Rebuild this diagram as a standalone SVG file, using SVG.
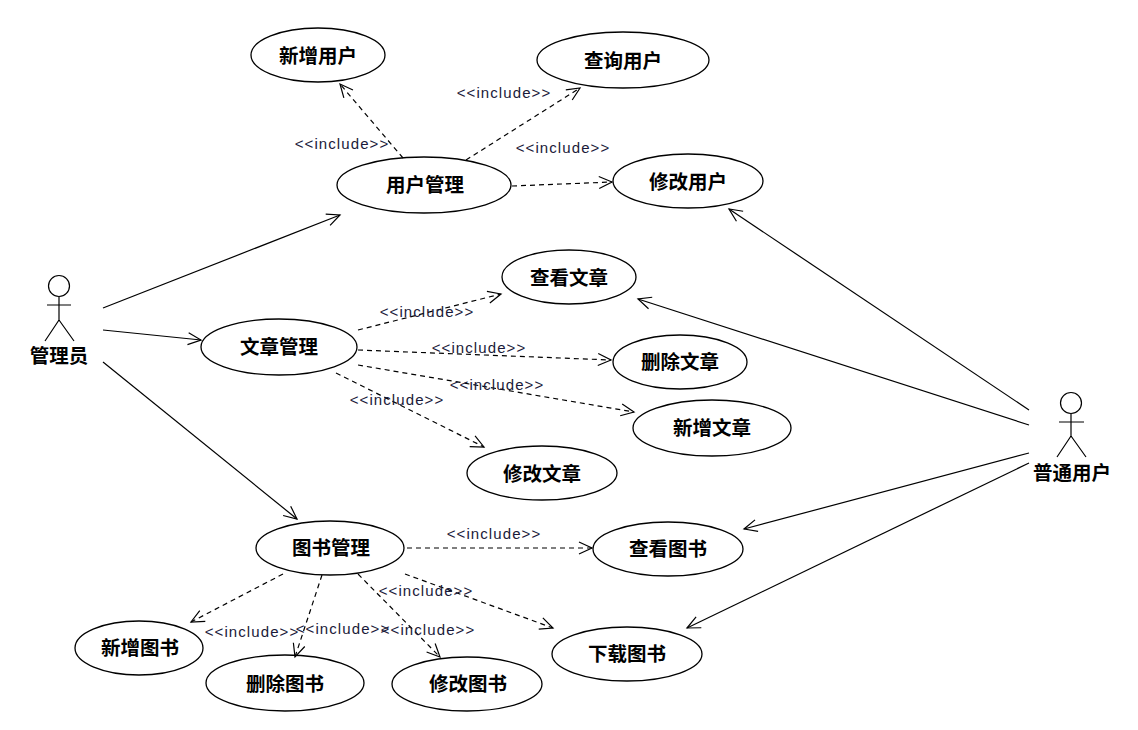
<svg xmlns="http://www.w3.org/2000/svg" width="1138" height="730" viewBox="0 0 1138 730">
<style>
.n ellipse{fill:#fff;stroke:#000;stroke-width:1.3}
.n text,.a text{font:700 19.5px "Noto Sans CJK SC","Liberation Sans",sans-serif;text-anchor:middle;fill:#000}
.a circle{fill:#fff;stroke:#000;stroke-width:1.2}
.a path{fill:none;stroke:#000;stroke-width:1.2}
.s line{stroke:#000;stroke-width:1.2;fill:none;marker-end:url(#arr)}
.d line{stroke:#000;stroke-width:1.2;stroke-dasharray:5 4;fill:none;marker-end:url(#arr)}
.l text{font:15px "Liberation Sans",Arial,sans-serif;fill:#1a1a3a;letter-spacing:1.1px;text-anchor:middle}
</style>
<defs>
<marker id="arr" markerUnits="userSpaceOnUse" markerWidth="16" markerHeight="16" refX="14" refY="8" orient="auto"><path d="M1 2L14 8L1 14" fill="none" stroke="#000" stroke-width="1.2"/></marker>
</defs>
<rect width="1138" height="730" fill="#fff"/>
<g id="nodes">
<g id="uc-add-user" class="n"><ellipse cx="318" cy="55" rx="67" ry="27"/><text x="318" y="63">新增用户</text></g>
<g id="uc-query-user" class="n"><ellipse cx="623" cy="60" rx="86" ry="28"/><text x="623" y="68">查询用户</text></g>
<g id="uc-user-mgmt" class="n"><ellipse cx="424" cy="185" rx="87" ry="28"/><text x="425" y="192">用户管理</text></g>
<g id="uc-edit-user" class="n"><ellipse cx="688" cy="181" rx="75" ry="27"/><text x="688" y="189">修改用户</text></g>
<g id="uc-view-article" class="n"><ellipse cx="569" cy="277" rx="67" ry="27"/><text x="569" y="285">查看文章</text></g>
<g id="uc-article-mgmt" class="n"><ellipse cx="279" cy="347" rx="78" ry="28"/><text x="279" y="354">文章管理</text></g>
<g id="uc-del-article" class="n"><ellipse cx="680" cy="362" rx="67" ry="27"/><text x="680" y="369">删除文章</text></g>
<g id="uc-add-article" class="n"><ellipse cx="712" cy="428" rx="79" ry="28"/><text x="712" y="435">新增文章</text></g>
<g id="uc-edit-article" class="n"><ellipse cx="542" cy="473" rx="75" ry="27"/><text x="542" y="481">修改文章</text></g>
<g id="uc-book-mgmt" class="n"><ellipse cx="330" cy="548" rx="74" ry="27"/><text x="331" y="555">图书管理</text></g>
<g id="uc-view-book" class="n"><ellipse cx="668" cy="549" rx="75" ry="27"/><text x="668" y="556">查看图书</text></g>
<g id="uc-download-book" class="n"><ellipse cx="627" cy="654" rx="75" ry="27"/><text x="627" y="661">下载图书</text></g>
<g id="uc-add-book" class="n"><ellipse cx="139" cy="648" rx="64" ry="27"/><text x="140" y="655">新增图书</text></g>
<g id="uc-del-book" class="n"><ellipse cx="285" cy="683" rx="79" ry="28"/><text x="285" y="691">删除图书</text></g>
<g id="uc-edit-book" class="n"><ellipse cx="467" cy="684" rx="75" ry="27"/><text x="468" y="691">修改图书</text></g>
<g id="actor-admin" class="a"><circle cx="59" cy="286" r="10.5"/><path d="M59 297V320M47 305H71M59 320L45 341M59 320L74 341"/><text x="59" y="363">管理员</text></g>
<g id="actor-user" class="a"><circle cx="1071" cy="403" r="10.5"/><path d="M1071 414V436M1059 422H1084M1071 436L1057 457M1071 436L1086 457"/><text x="1072" y="480">普通用户</text></g>
</g>
<g id="connectors">
<g class="s">
<line x1="103" y1="308" x2="340" y2="215"/>
<line x1="103" y1="330" x2="201" y2="340"/>
<line x1="103" y1="362" x2="297" y2="519"/>
<line x1="1029" y1="410" x2="729" y2="209"/>
<line x1="1029" y1="425" x2="638" y2="299"/>
<line x1="1029" y1="453" x2="744" y2="529"/>
<line x1="1029" y1="463" x2="687" y2="628"/>
</g>
<g class="d">
<line x1="403" y1="158" x2="340" y2="84"/>
<line x1="466" y1="160" x2="580" y2="88"/>
<line x1="512" y1="186" x2="612" y2="182"/>
<line x1="358" y1="330" x2="501" y2="294"/>
<line x1="358" y1="350" x2="611" y2="360"/>
<line x1="358" y1="365" x2="634" y2="412"/>
<line x1="336" y1="373" x2="484" y2="447"/>
<line x1="407" y1="548" x2="592" y2="548"/>
<line x1="405" y1="574" x2="553" y2="628"/>
<line x1="283" y1="574" x2="191" y2="622"/>
<line x1="322" y1="575" x2="295" y2="657"/>
<line x1="358" y1="574" x2="440" y2="657"/>
</g>
<g class="l">
<text x="342" y="149">&lt;&lt;include&gt;&gt;</text>
<text x="504" y="98">&lt;&lt;include&gt;&gt;</text>
<text x="563" y="153">&lt;&lt;include&gt;&gt;</text>
<text x="427" y="317">&lt;&lt;include&gt;&gt;</text>
<text x="479" y="353">&lt;&lt;include&gt;&gt;</text>
<text x="497" y="390">&lt;&lt;include&gt;&gt;</text>
<text x="397" y="405">&lt;&lt;include&gt;&gt;</text>
<text x="494" y="539">&lt;&lt;include&gt;&gt;</text>
<text x="426" y="596">&lt;&lt;include&gt;&gt;</text>
<text x="252" y="637">&lt;&lt;include&gt;&gt;</text>
<text x="343" y="634">&lt;&lt;include&gt;&gt;</text>
<text x="428" y="635">&lt;&lt;include&gt;&gt;</text>
</g>
</g>
</svg>
